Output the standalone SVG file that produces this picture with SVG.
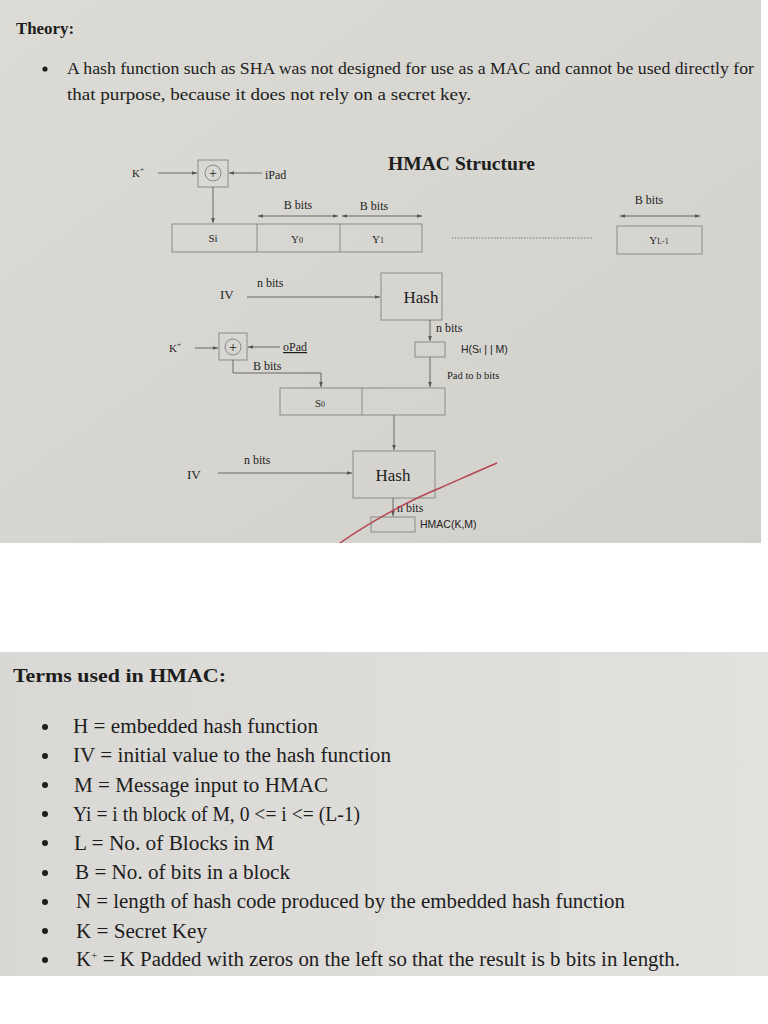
<svg xmlns="http://www.w3.org/2000/svg" width="768" height="1024" viewBox="0 0 768 1024">
<defs>
<marker id="ah" viewBox="0 0 6 6" refX="6" refY="3" markerWidth="5" markerHeight="5" orient="auto-start-reverse"><path d="M0,0.8 L6,3 L0,5.2 z" fill="#555"/></marker>
<linearGradient id="bg1" x1="0" y1="0" x2="1" y2="1"><stop offset="0" stop-color="#dcdbd6"/><stop offset="1" stop-color="#d2d0cb"/></linearGradient>
<linearGradient id="bg2" x1="0" y1="0" x2="1" y2="0"><stop offset="0" stop-color="#d9d8d5"/><stop offset="1" stop-color="#e2e1de"/></linearGradient>
<style>
.s{font-family:"Liberation Serif","Times New Roman",serif;fill:#1d1d1d}
.ss{font-family:"Liberation Sans",Arial,sans-serif;fill:#222}
.b{font-weight:bold}
.ln{stroke:#666;stroke-width:1;fill:none}
.bx{stroke:#8a8a8a;stroke-width:1;fill:none}
.ar{stroke:#666;stroke-width:1;fill:none;marker-end:url(#ah)}
.dar{stroke:#666;stroke-width:1;fill:none;marker-end:url(#ah);marker-start:url(#ah)}
</style>
</defs>
<rect width="768" height="1024" fill="#ffffff"/>
<rect x="0" y="0" width="761" height="543" fill="url(#bg1)"/>
<rect x="0" y="652" width="768" height="324" fill="url(#bg2)"/>

<g id="theory">
<text class="s b" x="16" y="34" font-size="16" textLength="58" lengthAdjust="spacingAndGlyphs">Theory:</text>
<circle cx="45" cy="69" r="2.6" fill="#1d1d1d"/>
<text class="s" x="67" y="74" font-size="17" textLength="687" lengthAdjust="spacingAndGlyphs">A hash function such as SHA was not designed for use as a MAC and cannot be used directly for</text>
<text class="s" x="67" y="100" font-size="17" textLength="404" lengthAdjust="spacingAndGlyphs">that purpose, because it does not rely on a secret key.</text>
</g>

<g id="title"><text class="s b" x="388" y="170" font-size="19" textLength="147" lengthAdjust="spacingAndGlyphs">HMAC Structure</text></g>

<g id="kplus1"><text class="s" x="132" y="177" font-size="11">K<tspan dy="-5" font-size="7">+</tspan></text></g>
<g id="xor1">
<rect class="bx" x="198" y="160" width="30" height="27"/>
<circle class="bx" cx="213" cy="173" r="8"/>
<text class="s" x="213" y="178" font-size="14" text-anchor="middle">+</text>
</g>
<g id="ipad"><text class="s" x="265" y="179" font-size="12">iPad</text></g>

<g id="blocks">
<rect class="bx" x="172" y="224" width="250" height="28"/>
<line class="bx" x1="257" y1="224" x2="257" y2="252"/>
<line class="bx" x1="340" y1="224" x2="340" y2="252"/>
<text class="s" x="213" y="242" font-size="11" text-anchor="middle">Si</text>
<text class="s" x="297" y="243" font-size="11" text-anchor="middle">Y<tspan font-size="8">0</tspan></text>
<text class="s" x="378" y="243" font-size="11" text-anchor="middle">Y<tspan font-size="8">1</tspan></text>
<text class="s" x="298" y="209" font-size="12" text-anchor="middle">B bits</text>
<text class="s" x="374" y="210" font-size="12" text-anchor="middle">B bits</text>
</g>
<g id="blockL">
<rect class="bx" x="617" y="226" width="85" height="28"/>
<text class="s" x="659" y="244" font-size="11" text-anchor="middle">Y<tspan font-size="8">L-1</tspan></text>
<text class="s" x="649" y="204" font-size="12" text-anchor="middle">B bits</text>
</g>

<g id="iv1"><text class="s" x="220" y="299" font-size="13">IV</text><text class="s" x="257" y="287" font-size="12">n bits</text></g>
<g id="hash1">
<rect class="bx" x="381" y="273" width="61" height="47"/>
<text class="s" x="421" y="303" font-size="17" text-anchor="middle">Hash</text>
</g>
<g id="hsm">
<rect class="bx" x="415" y="342" width="30" height="15"/>
<text class="s" x="436" y="332" font-size="12">n bits</text>
<text class="ss" x="461" y="353" font-size="10.5">H(S<tspan font-size="8">I</tspan> | | M)</text>
<text class="s" x="447" y="379" font-size="10.5">Pad to b bits</text>
</g>

<g id="kplus2"><text class="s" x="169" y="352" font-size="11">K<tspan dy="-5" font-size="7">+</tspan></text></g>
<g id="xor2">
<rect class="bx" x="219" y="333" width="28" height="27"/>
<circle class="bx" cx="233" cy="347" r="8"/>
<text class="s" x="233" y="352" font-size="14" text-anchor="middle">+</text>
</g>
<g id="opad"><text class="s" x="283" y="351" font-size="12" text-decoration="underline">oPad</text><text class="s" x="253" y="370" font-size="12">B bits</text></g>

<g id="so">
<rect class="bx" x="280" y="388" width="165" height="27"/>
<line class="bx" x1="362" y1="388" x2="362" y2="415"/>
<text class="s" x="320" y="407" font-size="11" text-anchor="middle">S<tspan font-size="8">0</tspan></text>
</g>

<g id="iv2"><text class="s" x="187" y="479" font-size="13">IV</text><text class="s" x="244" y="464" font-size="12">n bits</text></g>
<g id="hash2">
<rect class="bx" x="353" y="451" width="82" height="47"/>
<text class="s" x="393" y="481" font-size="17" text-anchor="middle">Hash</text>
</g>
<g id="hmac">
<rect class="bx" x="371" y="517" width="44" height="15"/>
<text class="s" x="397" y="512" font-size="12">n bits</text>
<text class="ss" x="420" y="528" font-size="10.5">HMAC(K,M)</text>
</g>

<g id="connectors">
<line class="ar" x1="158" y1="173" x2="197" y2="173"/>
<line class="ar" x1="262" y1="173" x2="229" y2="173"/>
<line class="ar" x1="213" y1="187" x2="213" y2="223"/>
<line class="dar" x1="258" y1="216" x2="338" y2="216"/>
<line class="dar" x1="342" y1="216" x2="422" y2="216"/>
<line class="dar" x1="620" y1="216" x2="700" y2="216"/>
<line x1="452" y1="238" x2="592" y2="238" stroke="#777" stroke-width="1" stroke-dasharray="1.5,1.5"/>
<line class="ar" x1="247" y1="297" x2="380" y2="297"/>
<line class="ar" x1="430" y1="320" x2="430" y2="341"/>
<line class="ar" x1="430" y1="357" x2="430" y2="387"/>
<line class="ar" x1="195" y1="348" x2="218" y2="348"/>
<line class="ar" x1="280" y1="347" x2="248" y2="347"/>
<polyline class="ar" points="233,360 233,373 321,373 321,387"/>
<line class="ar" x1="394" y1="415" x2="394" y2="450"/>
<line class="ar" x1="218" y1="473" x2="352" y2="473"/>
<line class="ar" x1="393" y1="498" x2="393" y2="516"/>
</g>

<path d="M340,543 C370,522 410,500 440,488 C465,477 485,468 497,463" stroke="#b5444f" stroke-width="1.5" fill="none"/>

<g id="terms">
<text class="s b" x="13" y="682" font-size="19" textLength="213" lengthAdjust="spacingAndGlyphs">Terms used in HMAC:</text>
<g fill="#1d1d1d">
<circle cx="45" cy="727" r="3"/><circle cx="45" cy="756" r="3"/><circle cx="45" cy="785" r="3"/><circle cx="45" cy="814" r="3"/><circle cx="45" cy="843" r="3"/><circle cx="45" cy="873" r="3"/><circle cx="45" cy="902" r="3"/><circle cx="45" cy="931" r="3"/><circle cx="45" cy="960" r="3"/>
</g>
<text class="s" x="73" y="733" font-size="20" textLength="245" lengthAdjust="spacingAndGlyphs">H = embedded hash function</text>
<text class="s" x="73" y="762" font-size="20" textLength="318" lengthAdjust="spacingAndGlyphs">IV = initial value to the hash function</text>
<text class="s" x="74" y="792" font-size="20" textLength="254" lengthAdjust="spacingAndGlyphs">M = Message input to HMAC</text>
<text class="s" x="73" y="821" font-size="20" textLength="287" lengthAdjust="spacingAndGlyphs">Yi = i th block of M, 0 &lt;= i &lt;= (L-1)</text>
<text class="s" x="74" y="850" font-size="20" textLength="200" lengthAdjust="spacingAndGlyphs">L = No. of Blocks in M</text>
<text class="s" x="75" y="879" font-size="20" textLength="215" lengthAdjust="spacingAndGlyphs">B = No. of bits in a block</text>
<text class="s" x="76" y="908" font-size="20" textLength="549" lengthAdjust="spacingAndGlyphs">N = length of hash code produced by the embedded hash function</text>
<text class="s" x="76" y="938" font-size="20" textLength="131" lengthAdjust="spacingAndGlyphs">K = Secret Key</text>
<text class="s" x="76" y="966" font-size="20" textLength="604" lengthAdjust="spacingAndGlyphs">K<tspan dy="-7" font-size="11">+</tspan><tspan dy="7"> = K Padded with zeros on the left so that the result is b bits in length.</tspan></text>
</g>
</svg>
